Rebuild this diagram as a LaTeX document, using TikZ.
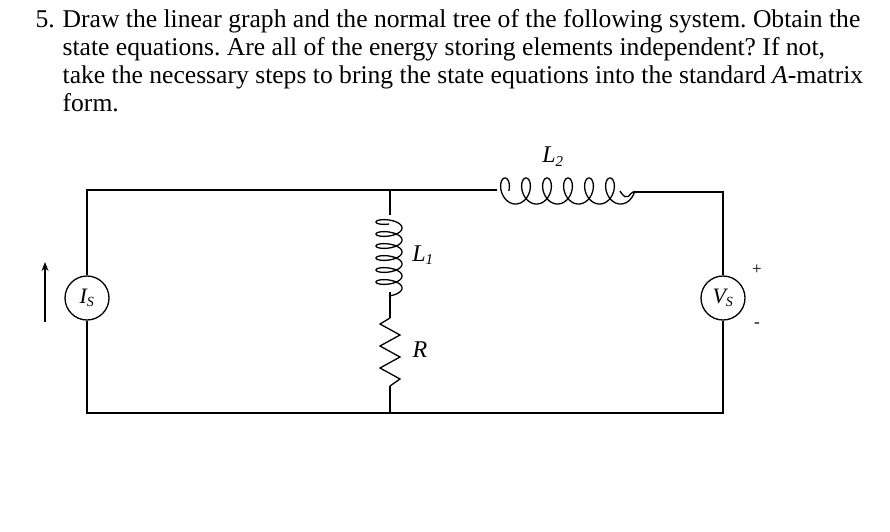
\documentclass[tikz,border=0pt]{standalone}
\usepackage{fontspec}
\setmainfont{Liberation Serif}
\usetikzlibrary{arrows.meta}
\begin{document}
\begin{tikzpicture}[x=1pt,y=-1pt,line width=1.3pt,
  txt/.style={anchor=base west,inner sep=0pt,font=\fontsize{25.6}{28}\selectfont\frenchspacing},
  lab/.style={inner sep=0pt,font=\fontsize{24}{26}\selectfont\itshape},
  src/.style={draw,circle,minimum size=44pt,inner sep=0pt,font=\fontsize{22}{24}\selectfont\itshape}]
\useasboundingbox (0,0) rectangle (890,531);
\node[txt] (n5) at (35,27) {5.};
\node[txt] (t1) at (62,27) {Draw the linear graph and the normal tree of the following system. Obtain the};
\node[txt] (t2) at (62,55) {state equations. Are all of the energy storing elements independent? If not,};
\node[txt] (t3) at (62,83) {take the necessary steps to bring the state equations into the standard \textit{A}-matrix};
\node[txt] (t4) at (62,111) {form.};
% sources
\node[src] (is) at (87,298) {I\textsubscript{\fontsize{14}{14}\selectfont S}};
\node[src] (vs) at (723,298) {V\textsubscript{\fontsize{14}{14}\selectfont S}};
\coordinate (tl) at (87,190); \coordinate (bl) at (87,413);
\coordinate (tm) at (390,190); \coordinate (bm) at (390,413);
\coordinate (tr) at (723,192); \coordinate (br) at (723,413);
\coordinate (l2a) at (497,190); \coordinate (l2b) at (633,192);
\coordinate (l1a) at (390,215); \coordinate (l1b) at (390,292);
\coordinate (ra) at (390,318); \coordinate (rb) at (390,386);
\draw (is.north) -- (tl) -- (l2a);
\draw (l2b) -- (tr) -- (vs.north);
\draw (vs.south) -- (br) -- (bl) -- (is.south);
\draw (tm) -- (l1a);
\draw (l1b) -- (ra);
\draw (rb) -- (bm);
% L2 coil
\draw plot[domain=-90:2070,samples=400,smooth] ({505+\x/360*21-9*sin(\x)},{191-13*cos(\x)});
\draw (620,191) .. controls (628,204) and (630,192) .. (l2b);
% L1 coil
\draw plot[domain=-90:2070,samples=400,smooth] ({389-13*cos(\x)},{222+\x/360*12-5*sin(\x)});
% resistor
\draw (ra) -- (380,324) -- (400,335) -- (380,346) -- (400,357) -- (380,368) -- (400,379) -- (rb);
% labels
\node[lab] (lL2) at (553,157) {L\textsubscript{\fontsize{15}{15}\selectfont 2}};
\node[lab] (lL1) at (423,255) {L\textsubscript{\fontsize{15}{15}\selectfont 1}};
\node[lab] (lR) at (420,350) {R};
\node[inner sep=0pt,font=\fontsize{17}{18}\selectfont] (plus) at (757,270) {+};
\node[inner sep=0pt,font=\fontsize{17}{18}\selectfont] (minus) at (757,325) {-};
\coordinate (aa) at (45,322); \coordinate (ab) at (45,262);
\draw[-{Stealth[length=9pt,width=7pt]}] (aa) -- (ab);
\end{tikzpicture}
\end{document}
